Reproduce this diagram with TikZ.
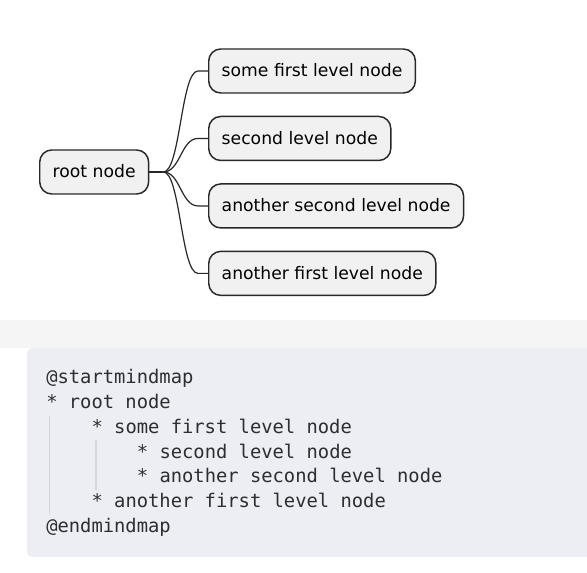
\documentclass[tikz,border=0pt]{standalone}
\usepackage{fontspec}
\setmainfont{DejaVu Sans}
\setmonofont{DejaVu Sans Mono}
\usetikzlibrary{positioning}
\definecolor{inkLine}{RGB}{40,40,40}
\definecolor{nodeFill}{RGB}{241,241,241}
\definecolor{bandGray}{RGB}{245,245,245}
\definecolor{codeBg}{RGB}{237,238,243}
\definecolor{guideGray}{RGB}{214,215,220}
\definecolor{codeInk}{RGB}{45,45,50}

\begin{document}
\begin{tikzpicture}[x=0.75pt, y=-0.75pt,
    mm/.style={draw=inkLine, line width=1.1pt, fill=nodeFill, rounded corners=9pt, minimum height=33pt, inner xsep=9.75pt, text height=11.3pt, text depth=2.7pt, font=\fontsize{12.9}{15}\selectfont, anchor=west},
    conn/.style={draw=inkLine, line width=0.9pt},
    code/.style={font=\ttfamily\fontsize{14.1}{18}\selectfont, text=codeInk, anchor=base west, inner sep=0pt},
    guide/.style={draw=guideGray, line width=1.1pt},
]
\useasboundingbox (0,0) rectangle (587,573);
\fill[white] (0,0) rectangle (587,573);

% Source panel
\fill[bandGray] (0,320) rectangle (587,348);
\begin{scope}
\clip (0,0) rectangle (587,573);
\fill[codeBg, rounded corners=4.5pt] (27,348) rectangle (600,557);
\end{scope}
\draw[guide] (49.5,416) -- (49.5,514);
\draw[guide] (96,440) -- (96,490);
\foreach \lvl/\txt [count=\i from 0] in {0/@startmindmap, 0/* root node, 1/* some first level node, 2/* second level node, 2/* another second level node, 1/* another first level node, 0/@endmindmap}
    \node[code] (line\i) at (46+45.3*\lvl, 384+24.75*\i) {\txt};

% Mind map
\node[mm] (root) at (39,172) {root node};
\node[mm] (sfl) at (208,71) {some first level node};
\node[mm, below=50.6pt of sfl.west, anchor=west] (sln) {second level node};
\node[mm, below=50.6pt of sln.west, anchor=west] (asl) {another second level node};
\node[mm, below=50.6pt of asl.west, anchor=west] (afl) {another first level node};
\coordinate[right=10.5pt of root.east] (hub);

% Branches
\draw[conn] (root.east) -- (hub);
\foreach \n in {sfl,sln,asl,afl}
    \draw[conn] (\n.west) -- ++(-10,0) .. controls +(-17,0) and +(17,0) .. (hub);
\end{tikzpicture}
\end{document}
